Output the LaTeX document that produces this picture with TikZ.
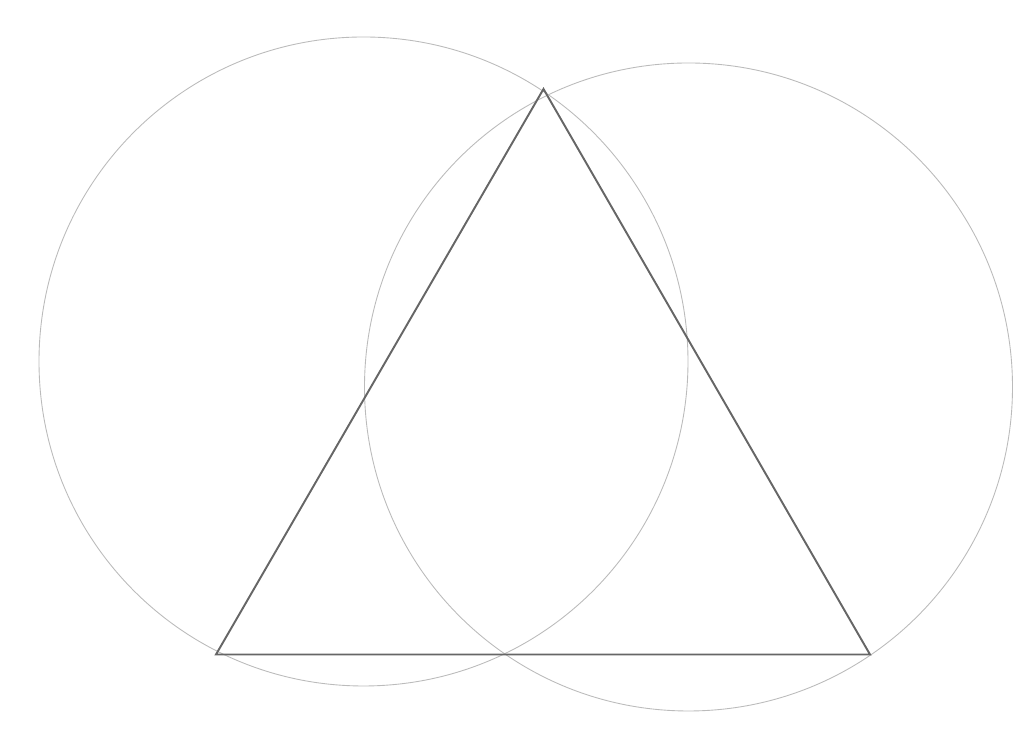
\documentclass[tikz,border=0pt]{standalone}
\usepackage{tikz}
\definecolor{circgray}{HTML}{BBBBBB}
\definecolor{trigray}{HTML}{666666}
\tikzset{
  guide/.style={draw=circgray, line width=0.5pt},
  side/.style={draw=trigray, line width=1.1pt, line join=miter}
}
\begin{document}
\begin{tikzpicture}
      \useasboundingbox (0,0) rectangle (20.48,14.76);
      \path
        (7.27,7.53) coordinate (o1)
        (13.77,7.02) coordinate (o2)
        (4.32,1.67) coordinate (a)
        (17.40,1.67) coordinate (b)
        (10.87,12.98) coordinate (c);
      \begin{scope}[guide]
        \draw (o1) circle (6.49);
        \draw (o2) circle (6.48);
      \end{scope}
      \begin{scope}[side]
        \draw (a) -- (b) -- (c) -- cycle;
      \end{scope}
    \end{tikzpicture}
\end{document}
